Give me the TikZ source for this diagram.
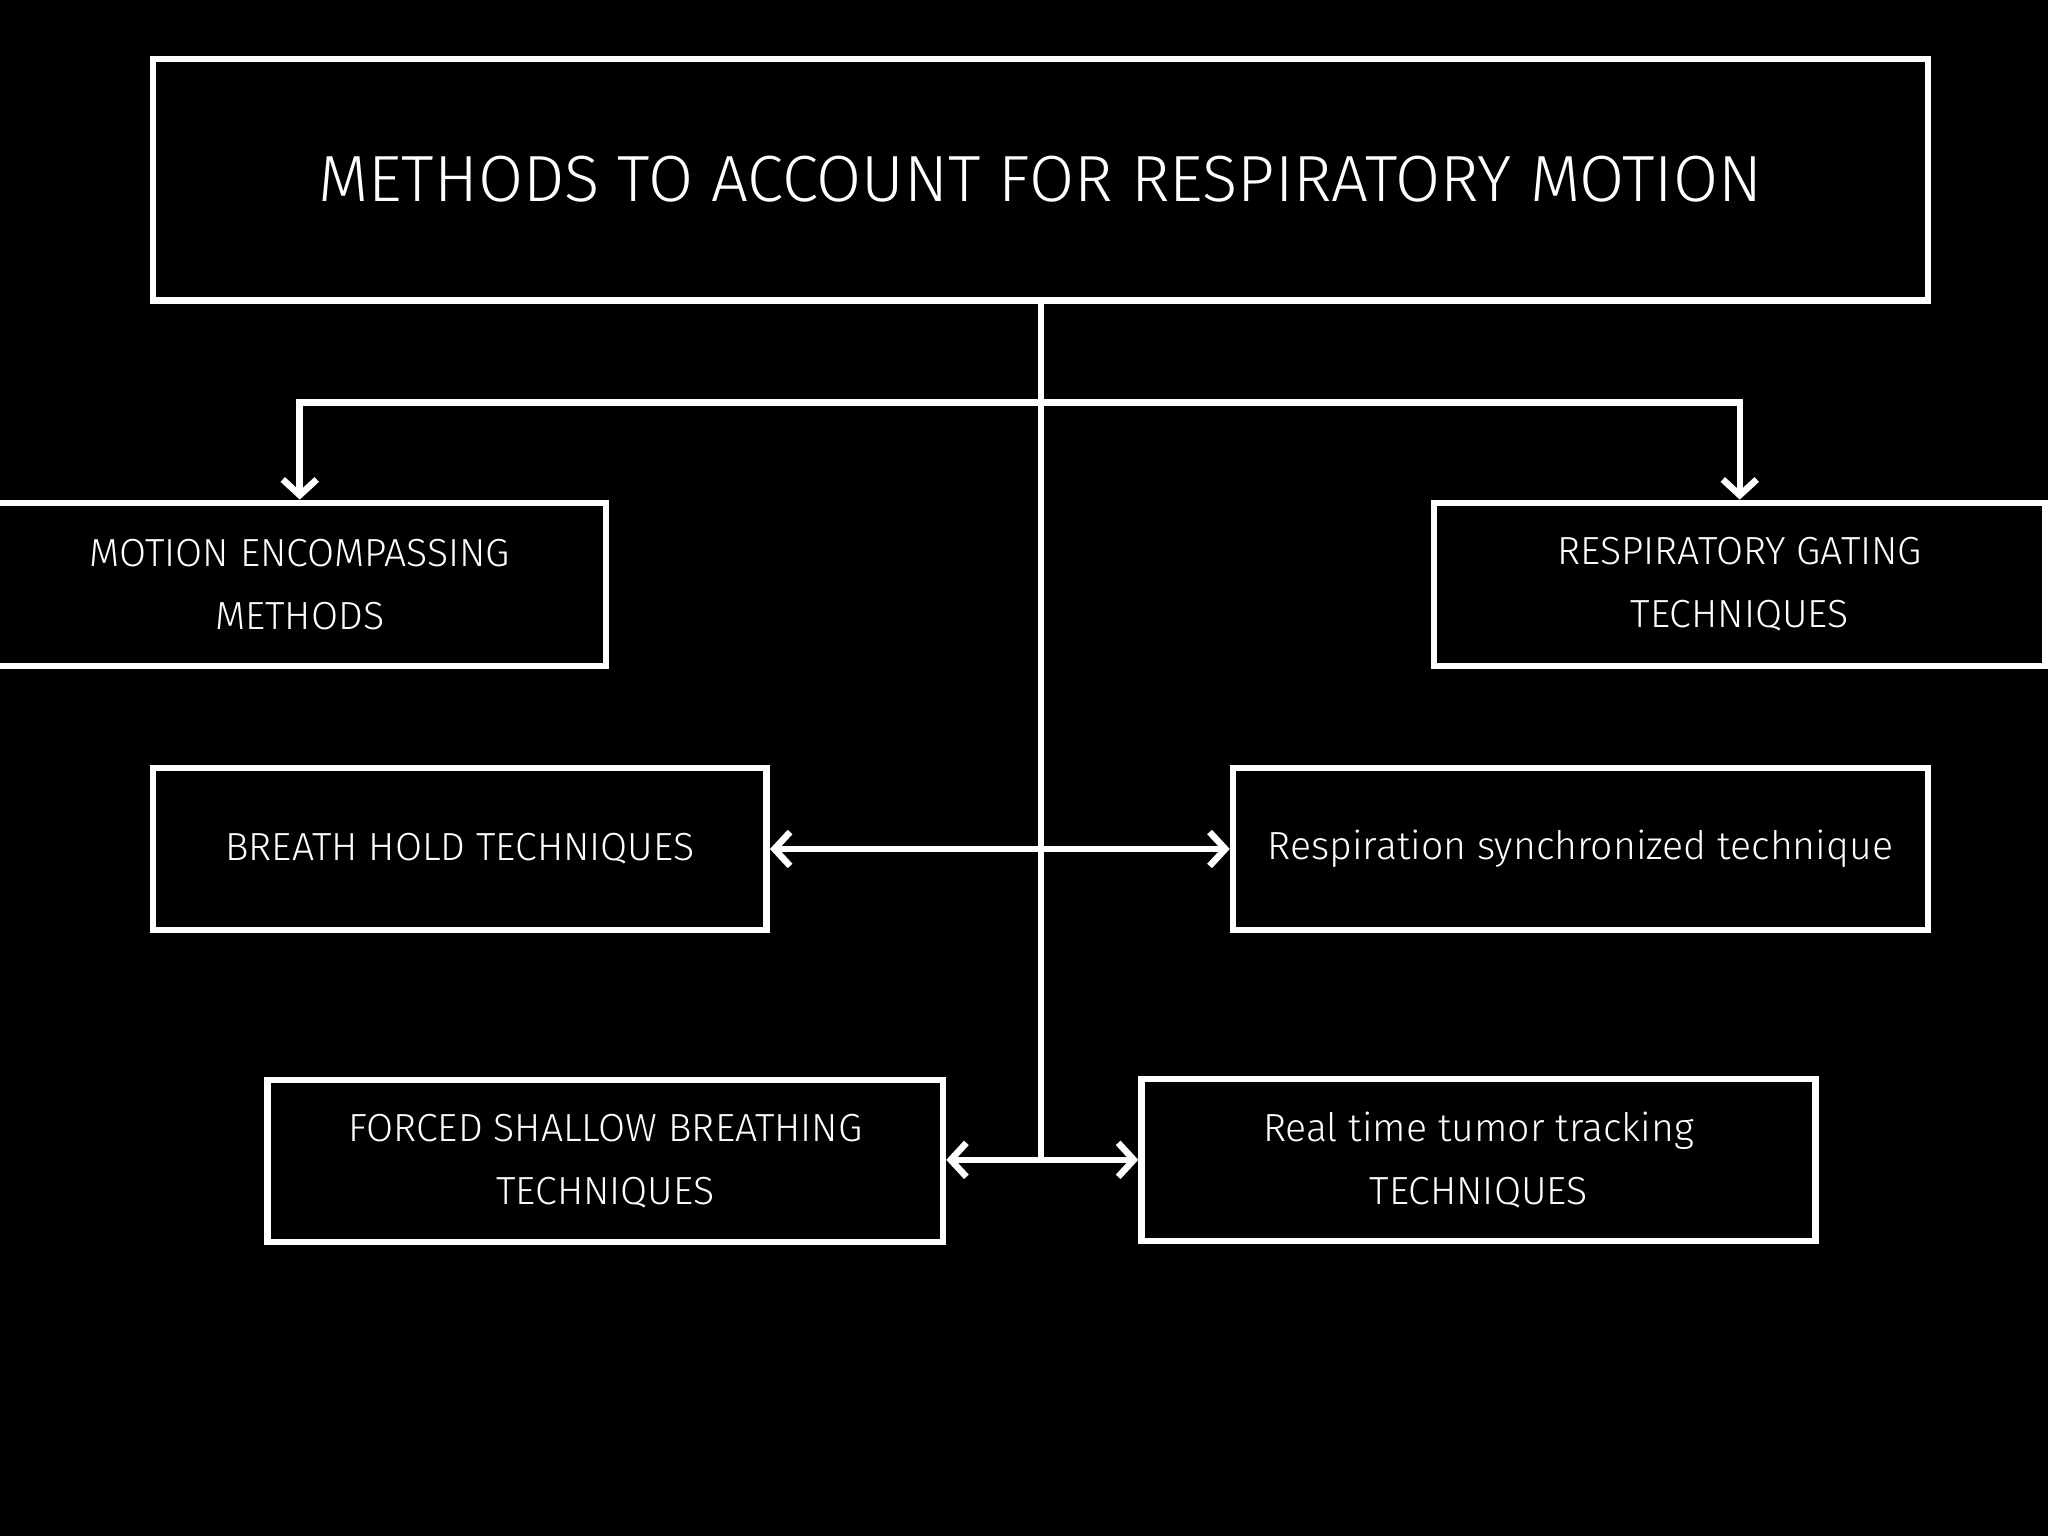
\documentclass[tikz,border=0pt]{standalone}
\usepackage{fontspec}
\setmainfont{Fira Sans Light}
\usetikzlibrary{arrows.meta}
\begin{document}
\begin{tikzpicture}[x=1pt,y=-1pt,
  box/.style={draw=white,line width=5pt,fill=black,text=white,align=center,inner sep=0pt},
  ln/.style={draw=white,line width=5pt},
  ar/.style={ln,-{Straight Barb[length=12pt,width=26pt,line width=5pt]}},
  txt/.style={font=\fontsize{30}{48}\selectfont}]
\fill[black] (0,0) rectangle (1568,1176);
\useasboundingbox (0,0) rectangle (1568,1176);
\node[box,minimum width=1359pt,minimum height=185pt,font=\fontsize{50}{60}\selectfont] (t) at (796.5,137.5) {METHODS TO ACCOUNT FOR RESPIRATORY MOTION};
\node[box,txt,minimum width=469pt,minimum height=125pt] (me) at (229.5,447.5) {MOTION ENCOMPASSING\\METHODS};
\node[box,txt,minimum width=468pt,minimum height=125pt] (rg) at (1332,447.5) {RESPIRATORY GATING\\TECHNIQUES};
\node[box,txt,minimum width=470pt,minimum height=124pt] (bh) at (352,650) {BREATH HOLD TECHNIQUES};
\node[box,txt,minimum width=532pt,minimum height=124pt] (rs) at (1210,650) {Respiration synchronized technique};
\node[box,txt,minimum width=517pt,minimum height=124pt] (fs) at (463.5,889) {FORCED SHALLOW BREATHING\\TECHNIQUES};
\node[box,txt,minimum width=516pt,minimum height=124pt] (rt) at (1132,888) {Real time tumor tracking\\TECHNIQUES};
\coordinate (j1) at (797,308);
\coordinate (j2) at (797,650);
\coordinate (j3) at (797,888);
\draw[ln] (t.south -| j1) -- (j3);
\draw[ar] (j1) -| (me.north);
\draw[ar] (j1) -| (rg.north);
\draw[ar] (j2) -- (bh.east);
\draw[ar] (j2) -- (rs.west);
\draw[ar] (j3) -- (fs.east |- j3);
\draw[ar] (j3) -- (rt.west |- j3);
\end{tikzpicture}
\end{document}
